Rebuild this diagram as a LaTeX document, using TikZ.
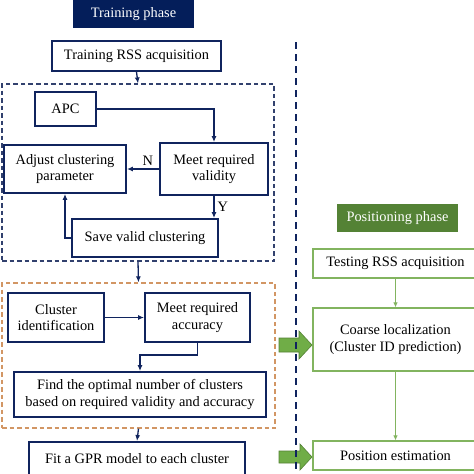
\documentclass[tikz,border=0pt]{standalone}
\usepackage{fontspec}
\setmainfont{Liberation Serif}
\usetikzlibrary{arrows.meta,positioning}
\definecolor{navy}{RGB}{16,36,94}
\definecolor{navyfill}{RGB}{4,30,90}
\definecolor{darkgreen}{RGB}{84,130,53}
\definecolor{lightgreen}{RGB}{130,180,95}
\definecolor{arrowgreen}{RGB}{112,173,71}
\definecolor{orangedash}{RGB}{210,150,100}
\definecolor{bluedash}{RGB}{50,65,110}
\tikzset{
  every node/.style={font=\fontsize{14.4}{16.5}\selectfont, inner sep=0pt, align=center},
  box/.style={draw=navy, line width=1.9pt, fill=white},
  gbox/.style={draw=lightgreen, line width=1.2pt, fill=white},
  hdr/.style={fill=navyfill, text=white},
  ghdr/.style={fill=darkgreen, text=white},
  frameb/.style={draw=bluedash, line width=1.2pt, dash pattern=on 4.5pt off 3pt},
  frameo/.style={draw=orangedash, line width=1.2pt, dash pattern=on 4.5pt off 3pt},
  conn/.style={draw=navy, line width=1.3pt, -{Latex[length=6pt,width=5pt]}},
  gconn/.style={draw=lightgreen, line width=1.1pt, -{Latex[length=5pt,width=4.5pt]}},
  blockarrow/.style={fill=arrowgreen, draw=darkgreen, line width=0.6pt},
}
\begin{document}
\begin{tikzpicture}[x=1pt,y=-1pt]
\useasboundingbox (0,0) rectangle (474,474);
\fill[white] (0,0) rectangle (474,474);
% frames
\node[frameb, minimum width=272, minimum height=177] (bframe) at (138,172.5) {};
\node[frameo, minimum width=273, minimum height=145] (oframe) at (138.5,355.5) {};
% training side
\node[hdr, minimum width=121, minimum height=28] (trainhdr) at (133.5,14) {Training phase};
\node[box, minimum width=169, minimum height=30] (trss) at (136.5,56) {Training RSS acquisition};
\node[box, minimum width=61, minimum height=34] (apc) at (65.5,109) {APC};
\node[box, minimum width=108, minimum height=52] (meetv) at (214,169) {Meet required\\validity};
\node[box, minimum width=122, minimum height=48] (adjust) at (65,169) {Adjust clustering\\parameter};
\node[box, minimum width=146, minimum height=38] (save) at (145,238) {Save valid clustering};
\node[box, minimum width=96, minimum height=49] (clid) at (56,317.5) {Cluster\\identification};
\node[box, minimum width=105, minimum height=49] (meeta) at (197.5,317.5) {Meet required\\accuracy};
\node[box, minimum width=252, minimum height=45] (find) at (140,394.5) {Find the optimal number of clusters\\based on required validity and accuracy};
\node[box, minimum width=216, minimum height=34] (gpr) at (137,459) {Fit a GPR model to each cluster};
% connectors training
\draw[conn] (trss.south) -- (bframe.north);
\draw[conn] (apc.east) -| (meetv.north);
\draw[conn] (meetv.west) -- node[above=3pt, pos=0.35] (nlab) {N} (adjust.east);
\draw[conn] (meetv.south) -- node[right=3pt] (ylab) {Y} (meetv.south |- save.north);
\draw[conn] (save.west) -| (adjust.south);
\draw[conn] (bframe.south) -- (oframe.north);
\draw[conn] (clid.east) -- (meeta.west);
\draw[conn] (meeta.south) -- ++(0,12) -| (find.north);
\draw[conn] (oframe.south) -- (gpr.north);
% positioning side
\node[ghdr, minimum width=121, minimum height=28] (poshdr) at (397.5,218) {Positioning phase};
\node[gbox, minimum width=165, minimum height=29] (testrss) at (395.5,263.5) {Testing RSS acquisition};
\node[gbox, minimum width=165, minimum height=63] (coarse) at (395.5,339.5) {Coarse localization\\(Cluster ID prediction)};
\node[gbox, minimum width=165, minimum height=29] (posest) at (395.5,455.5) {Position estimation};
\draw[gconn] (testrss.south) -- (coarse.north);
\draw[gconn] (coarse.south) -- (posest.north);
% block arrows
\draw[blockarrow] (279,338) -- (299,338) -- (299,331) -- (312,345) -- (299,359) -- (299,352) -- (279,352) -- cycle;
\draw[blockarrow] (279,451) -- (300,451) -- (300,444) -- (312,457) -- (300,470) -- (300,463) -- (279,463) -- cycle;
% divider
\coordinate (dtop) at (296,42);
\coordinate (dbot) at (296,476);
\draw[navy, line width=2pt, dash pattern=on 7pt off 5pt] (dtop) -- (dbot);
\end{tikzpicture}
\end{document}
